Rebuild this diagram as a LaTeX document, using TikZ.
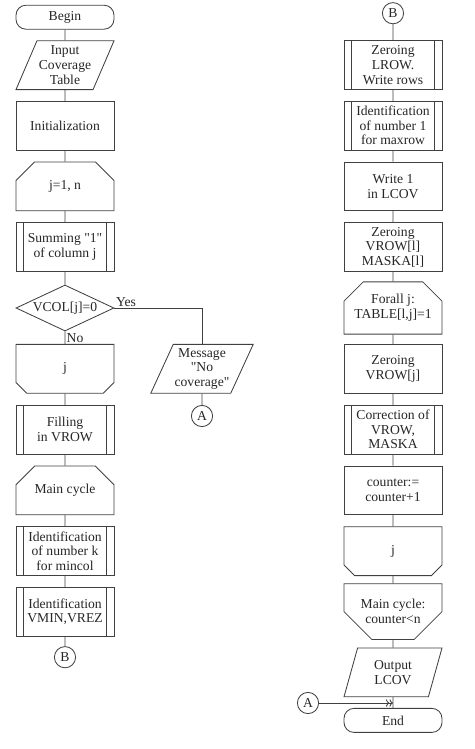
\documentclass[tikz,border=0pt]{standalone}
\usepackage{fontspec}
\setmainfont{Liberation Serif}
\usetikzlibrary{shapes.geometric,shapes.misc,arrows.meta}

\begin{document}
\begin{tikzpicture}[
    every node/.style={font=\fontsize{9.7}{10.4}\selectfont, text=black!85},
    block/.style={draw=black!75, line width=0.6pt, minimum width=2.45cm, minimum height=1.22cm, align=center, inner sep=1pt},
    terminal/.style={block, rectangle, rounded corners=0.25cm, minimum height=0.6cm},
    process/.style={block, rectangle},
    predef/.style={process, path picture={
        \draw[black!75, line width=0.6pt]
            ([xshift=0.18cm]path picture bounding box.north west) -- ([xshift=0.18cm]path picture bounding box.south west)
            ([xshift=-0.18cm]path picture bounding box.north east) -- ([xshift=-0.18cm]path picture bounding box.south east);}},
    io/.style={block, trapezium, trapezium left angle=63, trapezium right angle=117, trapezium stretches body},
    loopstart/.style={block, chamfered rectangle, chamfered rectangle corners={north west, north east},
        chamfered rectangle xsep=0.2cm, chamfered rectangle ysep=0.28cm},
    loopend/.style={block, chamfered rectangle, chamfered rectangle corners={south west, south east},
        chamfered rectangle xsep=0.38cm, chamfered rectangle ysep=0.36cm},
    decision/.style={block, diamond, minimum height=1.15cm, inner sep=0pt},
    connector/.style={circle, draw=black!75, line width=0.6pt, minimum size=0.53cm, inner sep=0pt},
    edge/.style={draw=black!75, line width=0.6pt},
    answer/.style={inner sep=1pt}
]
\useasboundingbox (0,0) rectangle (11.85,-18.725);

% Left column
\node[terminal] (begin) at (1.625,-0.43) {Begin};
\node[io] (input) at (1.625,-1.63) {Input\\Coverage\\Table};
\node[process] (init) at (1.625,-3.14) {Initialization};
\node[loopstart] (loopj) at (1.625,-4.66) {j=1, n};
\node[predef] (summing) at (1.625,-6.18) {Summing \textquotedbl1\textquotedbl\\of column j};
\node[decision] (check) at (1.625,-7.70) {\makebox[0pt]{VCOL[j]=0}};
\node[loopend] (endj) at (1.625,-9.22) {j};
\node[predef] (filling) at (1.625,-10.74) {Filling\\in VROW};
\node[loopstart] (maincyc) at (1.625,-12.26) {Main cycle};
\node[predef] (identk) at (1.625,-13.78) {Identification\\of number k\\for mincol};
\node[predef] (identv) at (1.625,-15.29) {Identification\\VMIN,VREZ};
\node[connector] (conB) at (1.625,-16.43) {B};

% Answers of the check
\node[answer, anchor=south west] (yes) at (check.east) {Yes};
\node[answer, anchor=north west] (no) at (check.south) {No};

% Branch without coverage
\node[io] (msg) at (5.05,-9.22) {Message\\\textquotedbl No\\coverage\textquotedbl};
\node[connector] (conA) at (5.05,-10.4) {A};

% Right column
\node[connector] (conB2) at (9.825,-0.33) {B};
\node[predef] (zerolrow) at (9.825,-1.63) {Zeroing\\LROW.\\Write rows};
\node[predef] (identl) at (9.825,-3.14) {Identification\\of number 1\\for maxrow};
\node[process] (writel) at (9.825,-4.66) {Write 1\\in LCOV};
\node[process] (zerovrow) at (9.825,-6.18) {Zeroing\\VROW[l]\\MASKA[l]};
\node[loopstart] (forall) at (9.825,-7.70) {Forall j:\\TABLE[l,j]=1};
\node[process] (zerovrowj) at (9.825,-9.22) {Zeroing\\VROW[j]};
\node[predef] (correct) at (9.825,-10.74) {Correction of\\VROW,\\MASKA};
\node[process] (counter) at (9.825,-12.26) {counter:=\\counter+1};
\node[loopend] (endj2) at (9.825,-13.78) {j};
\node[loopend] (mainend) at (9.825,-15.29) {Main cycle:\\counter<n};
\node[io] (output) at (9.825,-16.81) {Output\\LCOV};
\node[terminal] (finish) at (9.825,-18.01) {End};
\node[connector] (conA2) at (7.7,-17.575) {A};
\coordinate (merge) at (output.south |- conA2);

% Edges of the left column
\draw[edge] (begin) -- (input) -- (init) -- (loopj) -- (summing) -- (check);
\draw[edge] (check) -- (endj) -- (filling) -- (maincyc) -- (identk) -- (identv) -- (conB);
\draw[edge] (check.east) -| (msg.north);
\draw[edge] (msg) -- (conA);

% Edges of the right column
\draw[edge] (conB2) -- (zerolrow) -- (identl) -- (writel) -- (zerovrow) -- (forall) -- (zerovrowj);
\draw[edge] (zerovrowj) -- (correct) -- (counter) -- (endj2) -- (mainend) -- (output) -- (finish);
\draw[edge, -{To[length=2.5pt]To[length=2.5pt]}] (conA2) -- (merge);

\end{tikzpicture}
\end{document}
